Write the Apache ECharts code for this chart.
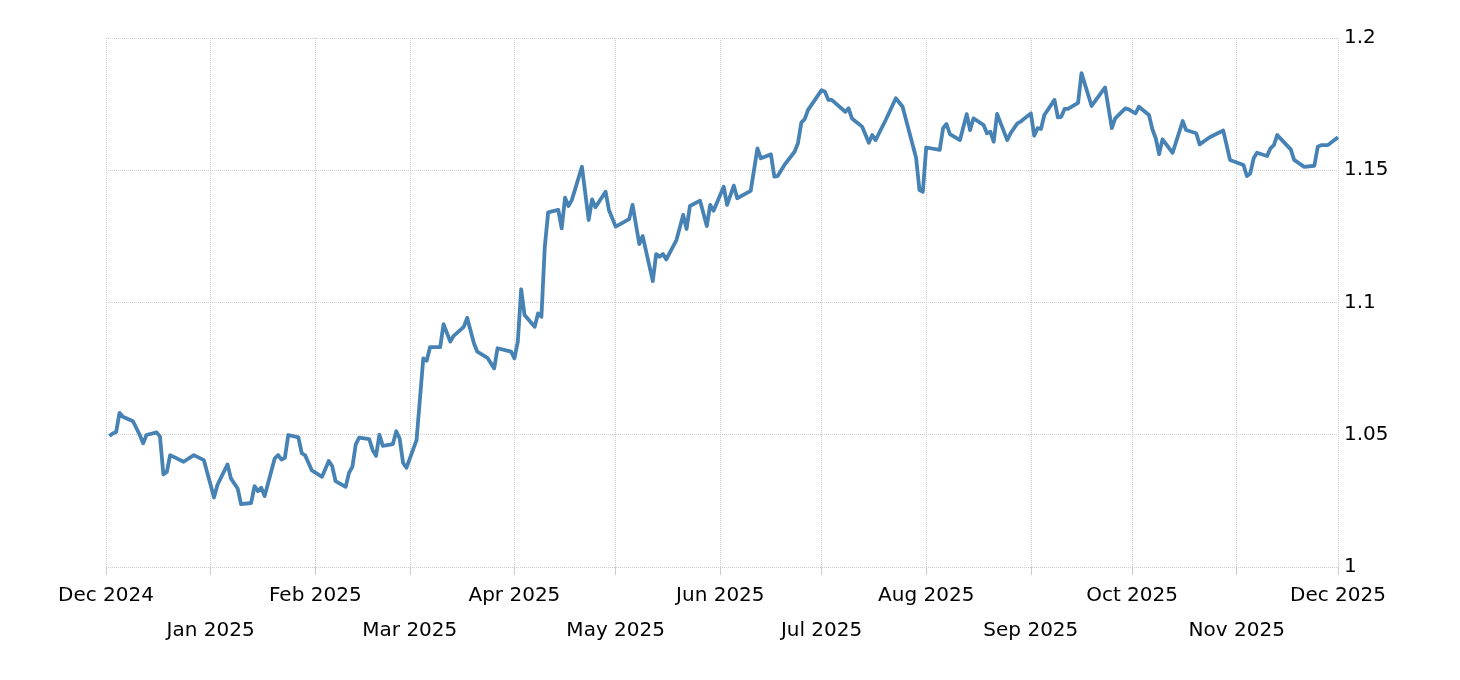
<!DOCTYPE html>
<html>
<head>
<meta charset="utf-8">
<script src="https://cdn.jsdelivr.net/npm/echarts@6/dist/echarts.min.js"></script>
<style>
html,body{margin:0;padding:0;background:#fff;}
#chart{width:1460px;height:680px;}
</style>
</head>
<body>
<div id="chart"></div>
<script>
const dates = [
'2024-12-02','2024-12-03','2024-12-04','2024-12-05','2024-12-06','2024-12-09','2024-12-11','2024-12-12','2024-12-13','2024-12-16',
'2024-12-17','2024-12-18','2024-12-19','2024-12-20','2024-12-24','2024-12-27','2024-12-30','2025-01-02','2025-01-03','2025-01-06',
'2025-01-07','2025-01-09','2025-01-10','2025-01-13','2025-01-14','2025-01-15','2025-01-16','2025-01-17','2025-01-20','2025-01-21',
'2025-01-22','2025-01-23','2025-01-24','2025-01-27','2025-01-28','2025-01-29','2025-01-31','2025-02-03','2025-02-05','2025-02-06',
'2025-02-07','2025-02-10','2025-02-11','2025-02-12','2025-02-13','2025-02-14','2025-02-17','2025-02-18','2025-02-19','2025-02-20',
'2025-02-21','2025-02-24','2025-02-25','2025-02-26','2025-02-27','2025-02-28','2025-03-03','2025-03-05','2025-03-06','2025-03-07',
'2025-03-10','2025-03-11','2025-03-13','2025-03-14','2025-03-17','2025-03-18','2025-03-20','2025-03-21','2025-03-24','2025-03-26',
'2025-03-27','2025-03-31','2025-04-01','2025-04-02','2025-04-03','2025-04-04','2025-04-07','2025-04-08','2025-04-09','2025-04-10',
'2025-04-11','2025-04-14','2025-04-15','2025-04-16','2025-04-17','2025-04-18','2025-04-21','2025-04-23','2025-04-24','2025-04-25',
'2025-04-28','2025-04-29','2025-05-01','2025-05-05','2025-05-06','2025-05-08','2025-05-09','2025-05-12','2025-05-13','2025-05-14',
'2025-05-15','2025-05-16','2025-05-19','2025-05-21','2025-05-22','2025-05-23','2025-05-26','2025-05-28','2025-05-29','2025-05-30',
'2025-06-02','2025-06-03','2025-06-05','2025-06-06','2025-06-10','2025-06-12','2025-06-13','2025-06-16','2025-06-17','2025-06-18',
'2025-06-20','2025-06-23','2025-06-24','2025-06-25','2025-06-26','2025-06-27','2025-07-01','2025-07-02','2025-07-03','2025-07-04',
'2025-07-08','2025-07-09','2025-07-10','2025-07-13','2025-07-15','2025-07-16','2025-07-17','2025-07-20','2025-07-23','2025-07-25',
'2025-07-29','2025-07-30','2025-07-31','2025-08-01','2025-08-05','2025-08-06','2025-08-07','2025-08-08','2025-08-11','2025-08-13',
'2025-08-14','2025-08-15','2025-08-18','2025-08-19','2025-08-20','2025-08-21','2025-08-22','2025-08-25','2025-08-26','2025-08-28',
'2025-08-29','2025-09-01','2025-09-02','2025-09-03','2025-09-04','2025-09-05','2025-09-08','2025-09-09','2025-09-10','2025-09-11',
'2025-09-12','2025-09-15','2025-09-16','2025-09-19','2025-09-23','2025-09-25','2025-09-26','2025-09-29','2025-09-30','2025-10-02',
'2025-10-03','2025-10-06','2025-10-07','2025-10-08','2025-10-09','2025-10-10','2025-10-13','2025-10-16','2025-10-17','2025-10-20',
'2025-10-21','2025-10-24','2025-10-28','2025-10-29','2025-10-30','2025-11-03','2025-11-04','2025-11-05','2025-11-06','2025-11-07',
'2025-11-10','2025-11-11','2025-11-12','2025-11-13','2025-11-17','2025-11-18','2025-11-21','2025-11-24','2025-11-25','2025-11-26',
'2025-11-28','2025-12-01'
];
const values = [
1.0495,1.0505,1.0510,1.0583,1.0568,1.0551,1.0499,1.0468,1.0499,1.0509,
1.0493,1.0350,1.0359,1.0423,1.0398,1.0423,1.0404,1.0263,1.0310,1.0388,
1.0335,1.0297,1.0238,1.0242,1.0306,1.0287,1.0300,1.0268,1.0411,1.0423,
1.0406,1.0413,1.0499,1.0490,1.0430,1.0422,1.0365,1.0341,1.0401,1.0382,
1.0325,1.0303,1.0356,1.0379,1.0464,1.0489,1.0483,1.0442,1.0420,1.0500,
1.0458,1.0465,1.0513,1.0486,1.0394,1.0375,1.0480,1.0789,1.0780,1.0831,
1.0831,1.0918,1.0852,1.0874,1.0908,1.0942,1.0846,1.0814,1.0791,1.0751,
1.0827,1.0814,1.0789,1.0852,1.1050,1.0953,1.0908,1.0959,1.0946,1.1211,
1.1341,1.1350,1.1280,1.1396,1.1365,1.1387,1.1513,1.1312,1.1390,1.1360,
1.1419,1.1350,1.1287,1.1315,1.1369,1.1221,1.1251,1.1081,1.1183,1.1173,
1.1183,1.1163,1.1236,1.1331,1.1278,1.1365,1.1385,1.1289,1.1369,1.1347,
1.1438,1.1369,1.1442,1.1394,1.1422,1.1583,1.1545,1.1560,1.1476,1.1478,
1.1520,1.1570,1.1602,1.1680,1.1693,1.1728,1.1803,1.1797,1.1766,1.1766,
1.1721,1.1734,1.1696,1.1665,1.1604,1.1633,1.1614,1.1690,1.1772,1.1740,
1.1547,1.1425,1.1419,1.1586,1.1577,1.1659,1.1675,1.1637,1.1614,1.1712,
1.1652,1.1696,1.1671,1.1640,1.1646,1.1608,1.1713,1.1614,1.1640,1.1677,
1.1684,1.1715,1.1631,1.1659,1.1656,1.1709,1.1766,1.1700,1.1702,1.1732,
1.1732,1.1755,1.1867,1.1743,1.1813,1.1659,1.1696,1.1734,1.1730,1.1715,
1.1740,1.1709,1.1655,1.1621,1.1561,1.1617,1.1566,1.1686,1.1652,1.1640,
1.1598,1.1625,1.1650,1.1595,1.1539,1.1520,1.1478,1.1488,1.1545,1.1566,
1.1554,1.1583,1.1595,1.1633,1.1579,1.1539,1.1513,1.1517,1.1589,1.1595,
1.1595,1.1625
];
const monthNames = ['Jan','Feb','Mar','Apr','May','Jun','Jul','Aug','Sep','Oct','Nov','Dec'];
const xStart = '2024-12-01';
const xEnd = '2025-12-01';
const yMin = 1, yMax = 1.2, yStep = 0.05;

const seriesData = dates.map((d, i) => [d, values[i]]);
const chart = echarts.init(document.getElementById('chart'));
const DAY = 86400000;
const font = 'DejaVu Sans';
chart.setOption({
  animation: false,
  backgroundColor: '#ffffff',
  grid: { left: 106, right: 122, top: 38, bottom: 113, containLabel: false },
  xAxis: {
    type: 'time',
    min: xStart,
    max: xEnd,
    minInterval: 28 * DAY,
    maxInterval: 31 * DAY,
    axisLine: { show: false },
    axisTick: { show: true, length: 8, lineStyle: { color: '#cccccc', width: 1 } },
    splitLine: { show: true, lineStyle: { color: '#cccccc', type: 'dotted', width: 1 } },
    axisLabel: {
      margin: 19,
      hideOverlap: false,
      showMinLabel: true,
      showMaxLabel: true,
      formatter: function (val) {
        const d = new Date(val);
        const m = d.getMonth();
        const y = d.getFullYear();
        const txt = monthNames[m] + ' ' + y;
        const idx = (y - 2024) * 12 + m - 11;
        return idx % 2 === 0 ? '{a|' + txt + '}' : '{b|' + txt + '}';
      },
      rich: {
        a: { fontFamily: font, fontSize: 20, color: '#000', lineHeight: 20 },
        b: { fontFamily: font, fontSize: 20, color: '#000', lineHeight: 20, padding: [70, 0, 0, 0] }
      }
    }
  },
  yAxis: {
    type: 'value',
    position: 'right',
    min: yMin,
    max: yMax,
    interval: yStep,
    axisLine: { show: false },
    axisTick: { show: false },
    splitLine: { show: true, lineStyle: { color: '#cccccc', type: 'dotted', width: 1 } },
    axisLabel: {
      margin: 6,
      fontFamily: font,
      fontSize: 20,
      color: '#000',
      formatter: function (v) { return String(+v.toFixed(2)); }
    }
  },
  series: [{
    type: 'line',
    data: seriesData,
    showSymbol: false,
    symbol: 'none',
    lineStyle: { color: '#4682b4', width: 3.8, join: 'round' },
    itemStyle: { color: '#4682b4' }
  }]
});
</script>
</body>
</html>
